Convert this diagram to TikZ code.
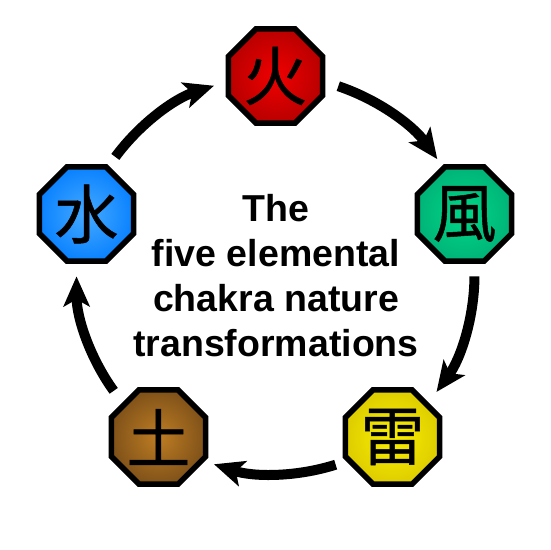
\documentclass[tikz,border=0pt]{standalone}
\usepackage{fontspec}
\setmainfont{Liberation Sans}
\newfontfamily\cjk[FakeBold=0.8]{Noto Sans CJK JP}
\usetikzlibrary{shapes.geometric,arrows.meta}
\definecolor{firein}{RGB}{240,0,0}\definecolor{fireout}{RGB}{185,0,0}
\definecolor{windin}{RGB}{0,215,135}\definecolor{windout}{RGB}{0,180,120}
\definecolor{thunderin}{RGB}{250,238,0}\definecolor{thunderout}{RGB}{222,205,0}
\definecolor{earthin}{RGB}{190,125,35}\definecolor{earthout}{RGB}{128,82,25}
\definecolor{waterin}{RGB}{70,170,255}\definecolor{waterout}{RGB}{10,130,255}
\tikzset{
  octa/.style n args={2}{regular polygon,regular polygon sides=8,
    draw=black,line width=5.5pt,line join=miter,minimum size=102pt,inner sep=0pt,outer sep=0pt,
    inner color=#1,outer color=#2,font=\cjk\fontsize{64}{64}\selectfont,text=black},
  cyc/.style={line width=10pt,draw=black,-{Stealth[length=30pt,width=26pt,inset=7pt]},
    bend left=17.8,looseness=0.873},
  title/.style={font=\bfseries\fontsize{37.5}{45}\selectfont,align=center,text=black,inner sep=0pt}
}
\begin{document}
\begin{tikzpicture}[x=1pt,y=-1pt]
\useasboundingbox (0,0) rectangle (550,550);
\coordinate (hub) at (275.5,275);
\node[octa={firein}{fireout}] (fire) at (275.5,76) {火};
\node[octa={windin}{windout}] (wind) at (464.5,214) {風};
\node[octa={thunderin}{thunderout}] (thunder) at (392.5,437) {雷};
\node[octa={earthin}{earthout}] (earth) at (158.5,437) {土};
\node[octa={waterin}{waterout}] (water) at (86.5,214) {水};
\path (hub) ++(71.6:199pt) coordinate (fireOut);
\path (hub) ++(35.6:199pt) coordinate (windIn);
\path (hub) ++(-0.4:199pt) coordinate (windOut);
\path (hub) ++(-36:199pt) coordinate (thunderIn);
\path (hub) ++(-72.4:199pt) coordinate (thunderOut);
\path (hub) ++(-108:199pt) coordinate (earthIn);
\path (hub) ++(-144.4:199pt) coordinate (earthOut);
\path (hub) ++(-179.6:199pt) coordinate (waterIn);
\path (hub) ++(143.6:199pt) coordinate (waterOut);
\path (hub) ++(108:199pt) coordinate (fireIn);
\node[title] (caption) at (276,275.5) {The\\five elemental\\chakra nature\\transformations};
\draw[cyc] (fireOut) to (windIn);
\draw[cyc] (windOut) to (thunderIn);
\draw[cyc] (thunderOut) to (earthIn);
\draw[cyc] (earthOut) to (waterIn);
\draw[cyc] (waterOut) to (fireIn);
\end{tikzpicture}
\end{document}
